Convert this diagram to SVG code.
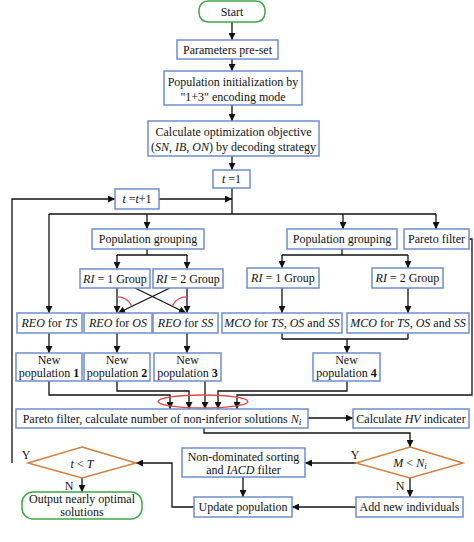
<svg xmlns="http://www.w3.org/2000/svg" width="474" height="542" viewBox="0 0 474 542">
<style>
.b{fill:#fff;stroke:#6f8fcb;stroke-width:1.5}
.g{fill:#fff;stroke:#3fa64a;stroke-width:1.5}
.d{fill:#fff;stroke:#d2813f;stroke-width:1.5}
text{font-family:"Liberation Serif","Times New Roman",serif;font-size:12px;fill:#111;text-anchor:middle}
.l{fill:none;stroke:#111;stroke-width:1.3}
.a{fill:none;stroke:#111;stroke-width:1.3;marker-end:url(#ah)}
.r{fill:none;stroke:#e04848;stroke-width:1.3}
</style>
<defs>
<marker id="ah" viewBox="0 0 10 10" refX="10" refY="5" markerWidth="7" markerHeight="7" markerUnits="userSpaceOnUse" orient="auto">
<path d="M0,0 L10,5 L0,10 z" fill="#111"/>
</marker>
</defs>
<rect width="474" height="542" fill="#fff"/>

<g id="connectors">
<path class="a" d="M232,22V40"/>
<path class="a" d="M232,59V71"/>
<path class="a" d="M232,105V121"/>
<path class="a" d="M232,156V170"/>
<path class="l" d="M232,188V214"/>
<path class="a" d="M12,463V199H115"/>
<path class="a" d="M159,199H232"/>
<path class="l" d="M49,214H436"/>
<path class="a" d="M49,214V313"/>
<path class="a" d="M147,214V229"/>
<path class="a" d="M343,214V229"/>
<path class="a" d="M436,214V229"/>
<path class="l" d="M147,249V255M117,255H187"/>
<path class="a" d="M117,255V269"/>
<path class="a" d="M187,255V269"/>
<path class="l" d="M342,249V255M282,255H408"/>
<path class="a" d="M282,255V268"/>
<path class="a" d="M408,255V268"/>
<path class="a" d="M117,288V313"/>
<path class="a" d="M187,288V313"/>
<path class="a" d="M135,288L186,313"/>
<path class="a" d="M170,288L118,313"/>
<path class="r" d="M117,297A15,15 0 0 1 131.5,305.5"/>
<path class="r" d="M187,297A15,15 0 0 0 172.5,305.5"/>
<path class="a" d="M282,288V313"/>
<path class="a" d="M408,288V313"/>
<path class="a" d="M49,333V353"/>
<path class="a" d="M117,333V353"/>
<path class="a" d="M187,333V353"/>
<path class="l" d="M282,333V339M408,333V339M282,339H408"/>
<path class="a" d="M347,339V353"/>
<path class="a" d="M49,381V395H170V409"/>
<path class="a" d="M117,381V391H189V409"/>
<path class="a" d="M205,381V409"/>
<path class="a" d="M347,381V391H218V409"/>
<path class="a" d="M469,239H472V395H237V409"/>
<ellipse class="r" cx="203" cy="401.5" rx="45" ry="6.5"/>
<path class="a" d="M308,418H353"/>
<path class="a" d="M204,428V433H410V447"/>
<path class="a" d="M356,463H305"/>
<path class="a" d="M243,477V497"/>
<path class="a" d="M410,478V497"/>
<path class="a" d="M356,507H292"/>
<path class="a" d="M194,507H172V463H136"/>
<path class="a" d="M82,478V492"/>
<text x="355" y="459">Y</text>
<text x="400" y="490">N</text>
<text x="26" y="459">Y</text>
<text x="69" y="490">N</text>
</g>

<g id="start"><rect class="g" x="199" y="1" width="66" height="21" rx="9"/><text x="232" y="16">Start</text></g>
<g id="params"><rect class="b" x="177" y="40" width="101" height="19"/><text x="227.5" y="54">Parameters pre-set</text></g>
<g id="popinit"><rect class="b" x="164" y="71" width="138" height="34"/><text x="233" y="86">Population initialization by</text><text x="233" y="101">"1+3" encoding mode</text></g>
<g id="calc"><rect class="b" x="148" y="121" width="171" height="35"/><text x="233.5" y="136">Calculate optimization objective</text><text x="233.5" y="151">(<tspan font-style="italic">SN</tspan>, <tspan font-style="italic">IB</tspan>, <tspan font-style="italic">ON</tspan>) by decoding strategy</text></g>
<g id="t1"><rect class="b" x="213" y="170" width="37" height="18"/><text x="231.5" y="183"><tspan font-style="italic">t</tspan> =1</text></g>
<g id="tinc"><rect class="b" x="115" y="189" width="44" height="20"/><text x="137" y="203"><tspan font-style="italic">t</tspan> =<tspan font-style="italic">t</tspan>+1</text></g>
<g id="pg1"><rect class="b" x="92" y="229" width="112" height="20"/><text x="148" y="243">Population grouping</text></g>
<g id="pg2"><rect class="b" x="287" y="229" width="110" height="20"/><text x="342" y="243">Population grouping</text></g>
<g id="pf1"><rect class="b" x="404" y="229" width="65" height="20"/><text x="436.5" y="243">Pareto filter</text></g>
<g id="ri1a"><rect class="b" x="80" y="269" width="70" height="19"/><text x="115" y="283"><tspan font-style="italic">RI</tspan> = 1 Group</text></g>
<g id="ri2a"><rect class="b" x="153" y="269" width="70" height="19"/><text x="188" y="283"><tspan font-style="italic">RI</tspan> = 2 Group</text></g>
<g id="ri1b"><rect class="b" x="247" y="268" width="72" height="20"/><text x="283" y="282"><tspan font-style="italic">RI</tspan> = 1 Group</text></g>
<g id="ri2b"><rect class="b" x="372" y="268" width="71" height="20"/><text x="407.5" y="282"><tspan font-style="italic">RI</tspan> = 2 Group</text></g>
<g id="reots"><rect class="b" x="17" y="313" width="65" height="20"/><text x="49.5" y="327"><tspan font-style="italic">REO</tspan> for <tspan font-style="italic">TS</tspan></text></g>
<g id="reoos"><rect class="b" x="84" y="313" width="68" height="20"/><text x="118" y="327"><tspan font-style="italic">REO</tspan> for <tspan font-style="italic">OS</tspan></text></g>
<g id="reoss"><rect class="b" x="153" y="313" width="65" height="20"/><text x="185.5" y="327"><tspan font-style="italic">REO</tspan> for <tspan font-style="italic">SS</tspan></text></g>
<g id="mco1"><rect class="b" x="222" y="313" width="120" height="20"/><text x="282" y="327"><tspan font-style="italic">MCO</tspan> for <tspan font-style="italic">TS</tspan>, <tspan font-style="italic">OS</tspan> and <tspan font-style="italic">SS</tspan></text></g>
<g id="mco2"><rect class="b" x="347" y="313" width="122" height="20"/><text x="408" y="327"><tspan font-style="italic">MCO</tspan> for <tspan font-style="italic">TS</tspan>, <tspan font-style="italic">OS</tspan> and <tspan font-style="italic">SS</tspan></text></g>
<g id="np1"><rect class="b" x="16" y="353" width="66" height="28"/><text x="49" y="364">New</text><text x="49" y="377">population <tspan font-weight="bold">1</tspan></text></g>
<g id="np2"><rect class="b" x="84" y="353" width="66" height="28"/><text x="117" y="364">New</text><text x="117" y="377">population <tspan font-weight="bold">2</tspan></text></g>
<g id="np3"><rect class="b" x="154" y="353" width="67" height="28"/><text x="187.5" y="364">New</text><text x="187.5" y="377">population <tspan font-weight="bold">3</tspan></text></g>
<g id="np4"><rect class="b" x="313" y="353" width="67" height="28"/><text x="346.5" y="364">New</text><text x="346.5" y="377">population <tspan font-weight="bold">4</tspan></text></g>
<g id="pareto"><rect class="b" x="16" y="409" width="292" height="19"/><text x="162" y="423">Pareto filter, calculate number of non-inferior solutions <tspan font-style="italic">N</tspan><tspan font-style="italic" font-size="9" dy="2">i</tspan></text></g>
<g id="hv"><rect class="b" x="353" y="409" width="116" height="19"/><text x="411" y="423">Calculate <tspan font-style="italic">HV</tspan> indicater</text></g>
<g id="mn"><path class="d" d="M410,447L463,463L410,478L356,463Z"/><text x="410" y="467"><tspan font-style="italic">M</tspan> &lt; <tspan font-style="italic">N</tspan><tspan font-style="italic" font-size="9" dy="2">i</tspan></text></g>
<g id="nondom"><rect class="b" x="182" y="448" width="123" height="29"/><text x="243.5" y="461">Non-dominated sorting</text><text x="243.5" y="474">and <tspan font-style="italic">IACD</tspan> filter</text></g>
<g id="update"><rect class="b" x="194" y="497" width="98" height="20"/><text x="243" y="511">Update population</text></g>
<g id="addnew"><rect class="b" x="356" y="497" width="107" height="20"/><text x="409.5" y="511">Add new individuals</text></g>
<g id="tT"><path class="d" d="M82,447L136,463L82,478L28,463Z"/><text x="82" y="468" font-size="14"><tspan font-style="italic">t</tspan> &lt; <tspan font-style="italic">T</tspan></text></g>
<g id="output"><rect class="g" x="22" y="492" width="120" height="27" rx="11"/><text x="82" y="503" font-size="11">Output nearly optimal</text><text x="82" y="516" font-size="11">solutions</text></g>
</svg>
